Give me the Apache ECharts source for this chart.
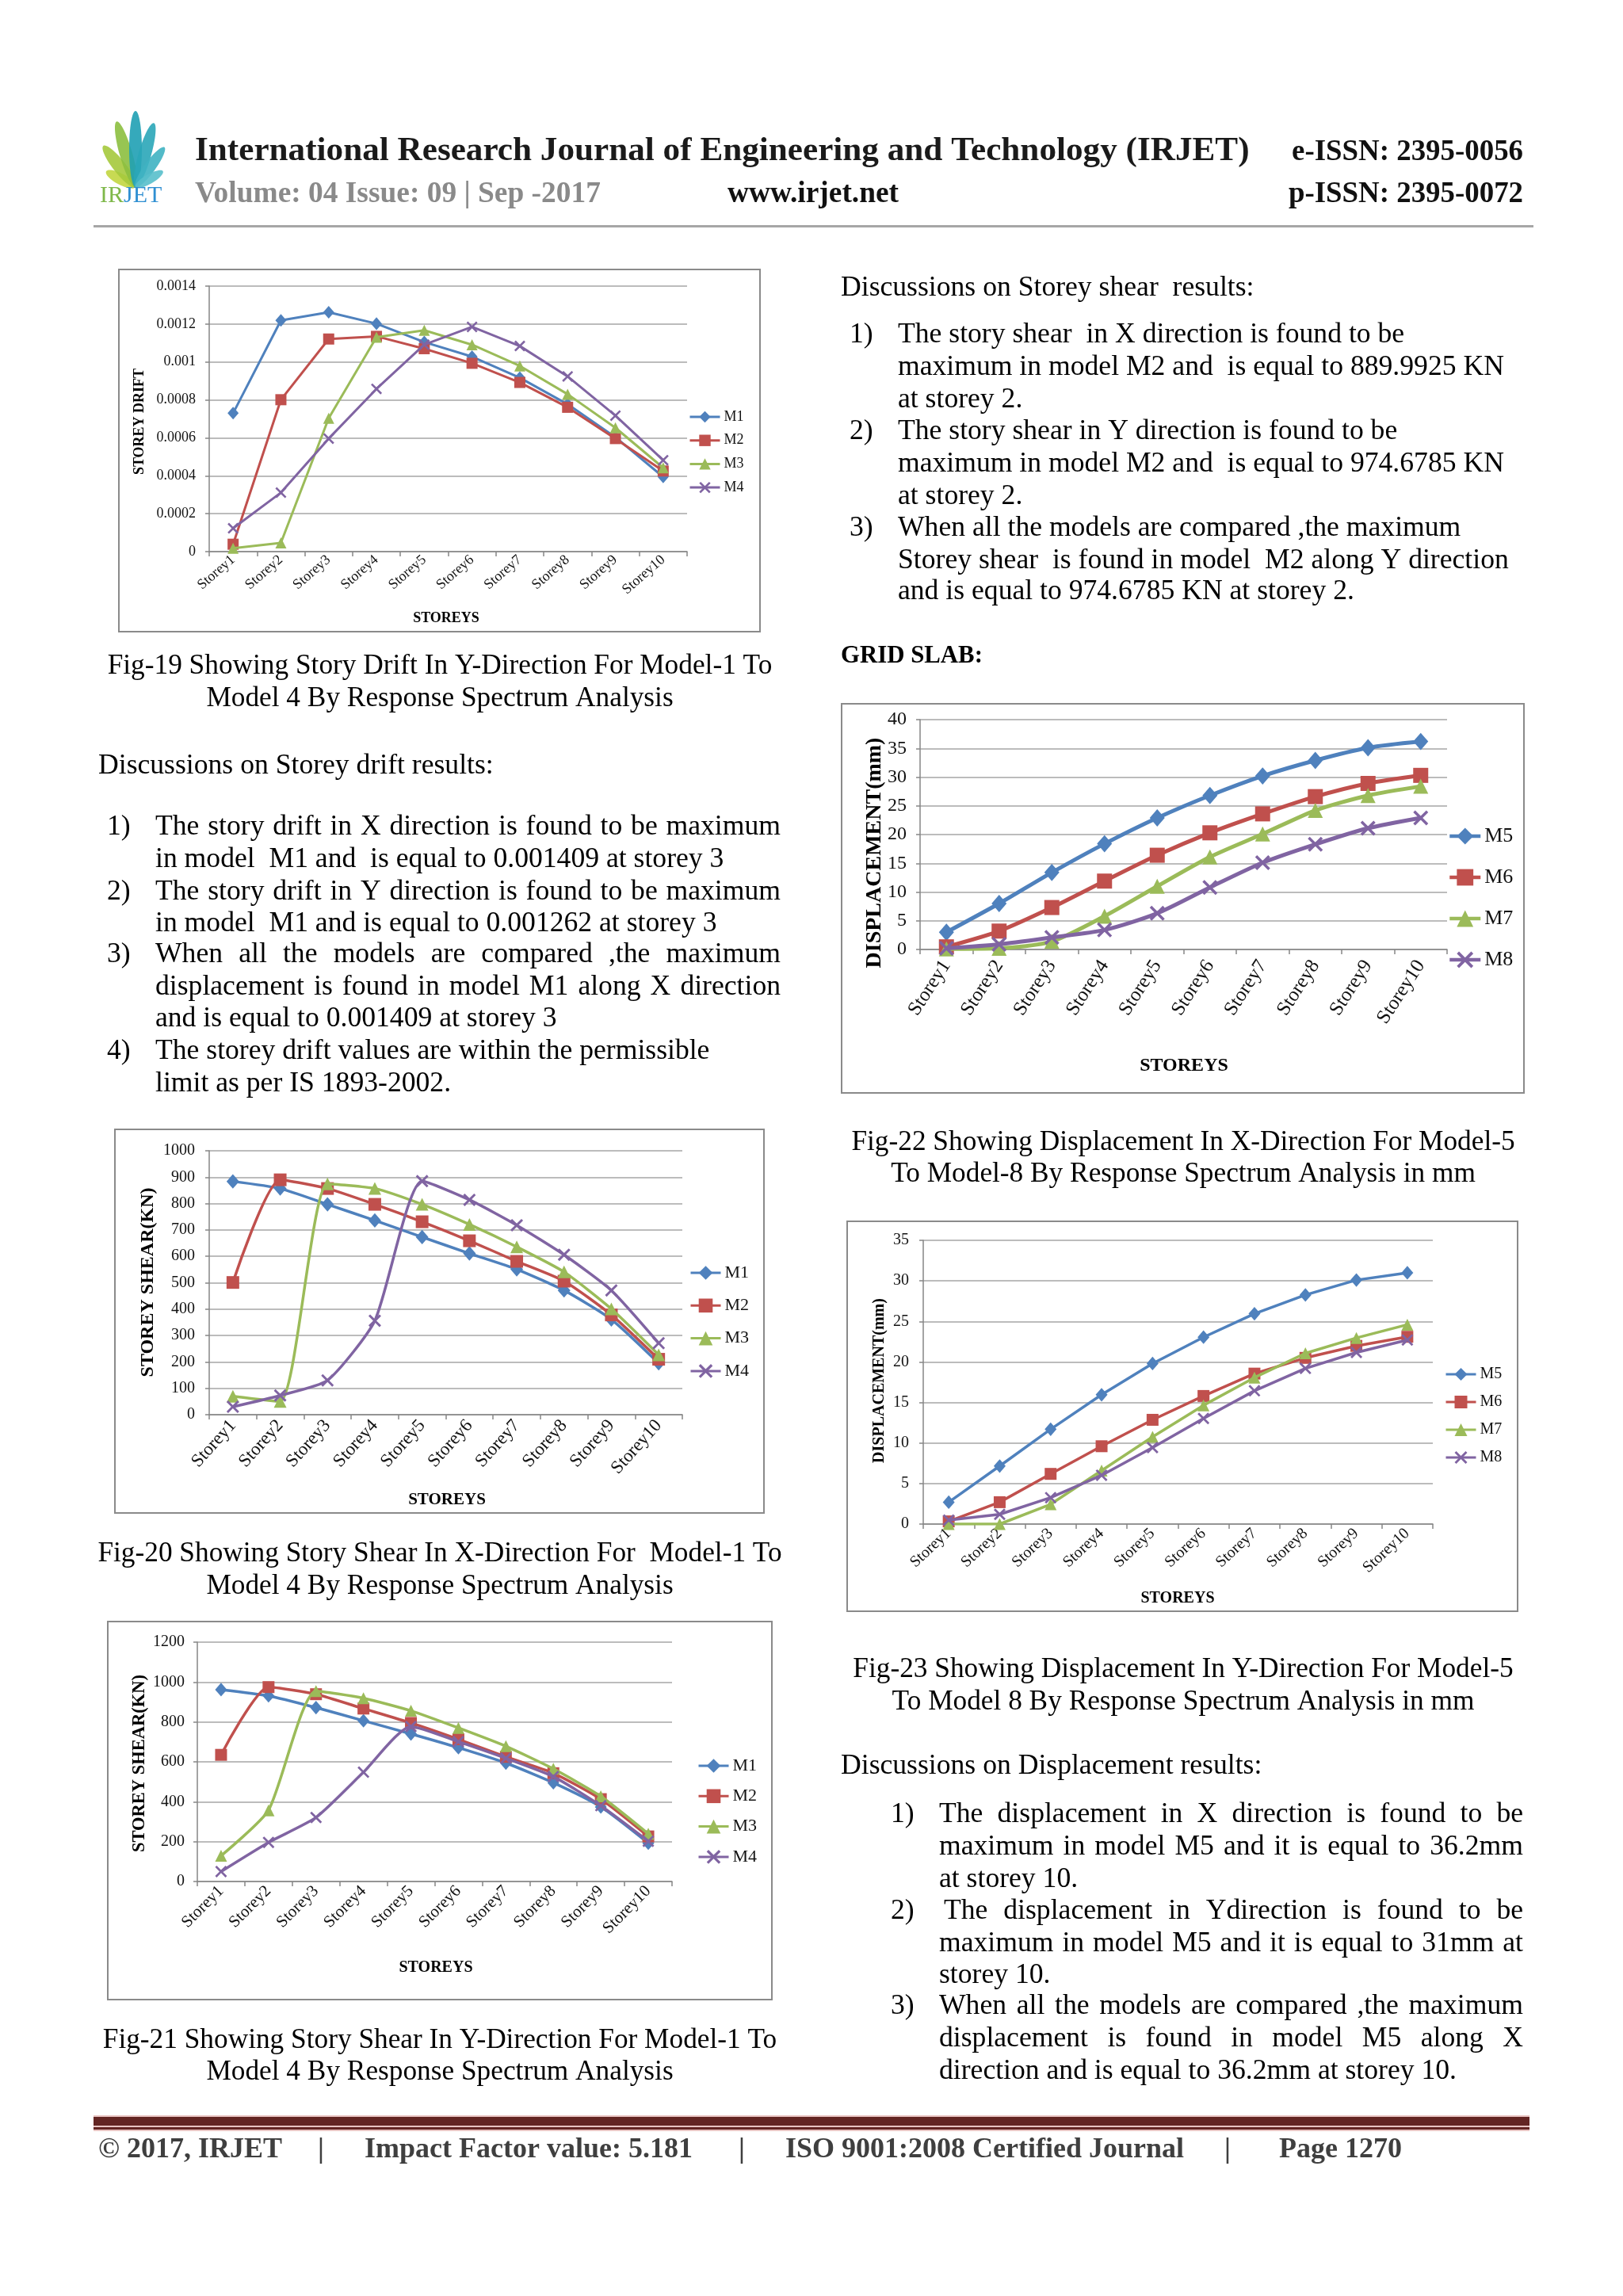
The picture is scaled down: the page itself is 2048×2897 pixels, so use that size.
<!DOCTYPE html>
<html><head><meta charset="utf-8">
<script src="https://cdn.jsdelivr.net/npm/echarts@6/dist/echarts.min.js"></script>
<style>html,body{margin:0;padding:0;background:#fff}#c{width:2048px;height:2897px}</style>
</head><body><div id="c"></div>
<script>
// ---------------- DATA ----------------
const storeys = ['Storey1','Storey2','Storey3','Storey4','Storey5','Storey6','Storey7','Storey8','Storey9','Storey10'];
const modelsA = ['M1','M2','M3','M4'];
const modelsB = ['M5','M6','M7','M8'];

// Fig-19 storey drift, Y direction
const fig19Ticks = [0,0.0002,0.0004,0.0006,0.0008,0.001,0.0012,0.0014];
const fig19_M1 = [0.00073,0.001219,0.001262,0.001202,0.001105,0.001028,0.000917,0.000777,0.000603,0.000394];
const fig19_M2 = [0.000039,0.000801,0.001121,0.001135,0.00107,0.000993,0.000892,0.000761,0.000596,0.000425];
const fig19_M3 = [0.000018,0.000046,0.000703,0.00113,0.001167,0.001091,0.000979,0.00083,0.000653,0.000442];
const fig19_M4 = [0.000123,0.000311,0.000596,0.000858,0.001091,0.001185,0.001084,0.000924,0.000717,0.000482];

// Fig-20 storey shear, X direction (KN)
const fig20Ticks = [0,100,200,300,400,500,600,700,800,900,1000];
const fig20_M1 = [884,857,797,736,673,611,551,471,361,195];
const fig20_M2 = [501,889.99,857,797,731,659,581,506,378,210];
const fig20_M3 = [70,50,875,857,797,721,636,541,401,227];
const fig20_M4 = [30,73,130,356,885,814,718,606,471,271];

// Fig-21 storey shear, Y direction (KN)
const fig21Ticks = [0,200,400,600,800,1000,1200];
const fig21_M1 = [962,931,872,806,740,671,594,495,374,192];
const fig21_M2 = [635,974.68,939,867,795,713,625,543,413,226];
const fig21_M3 = [129,357,955,919,856,770,678,565,427,239];
const fig21_M4 = [50,196,321,548,777,701,618,526,380,202];

// Fig-22 displacement, X direction (mm)
const fig22Ticks = [0,5,10,15,20,25,30,35,40];
const fig22_M5 = [3.0,8.0,13.4,18.4,22.9,26.8,30.2,32.9,35.1,36.2];
const fig22_M6 = [0.46,3.2,7.3,11.9,16.4,20.3,23.6,26.6,28.9,30.3];
const fig22_M7 = [0.1,0.2,1.4,5.8,11.0,16.1,20.1,24.2,26.8,28.4];
const fig22_M8 = [0.2,0.9,2.1,3.4,6.3,10.8,15.1,18.3,21.1,22.9];

// Fig-23 displacement, Y direction (mm)
const fig23Ticks = [0,5,10,15,20,25,30,35];
const fig23_M5 = [2.7,7.16,11.7,15.96,19.8,23.05,25.95,28.26,30.1,31.0];
const fig23_M6 = [0.33,2.7,6.19,9.6,12.86,15.8,18.56,20.5,21.98,23.1];
const fig23_M7 = [0,0,2.44,6.6,10.75,14.65,18.07,21.07,22.96,24.6];
const fig23_M8 = [0.49,1.2,3.26,6.02,9.44,13.02,16.44,19.2,21.17,22.7];

// ---------------- LAYOUT / STYLE ----------------
const SERIF = "'Liberation Serif','Times New Roman',serif";
const COLORS = ['#4F81BD','#C0504D','#9BBB59','#8064A2'];
const XSYM = 'path://M1.3,0 L5,3.7 L8.7,0 L10,1.3 L6.3,5 L10,8.7 L8.7,10 L5,6.3 L1.3,10 L0,8.7 L3.7,5 L0,1.3 Z';
const SYMS = ['diamond','rect','triangle',XSYM];

const charts = [
  {names:modelsA, data:[fig19_M1,fig19_M2,fig19_M3,fig19_M4], ticks:fig19Ticks,
   grid:{left:264,top:361,width:603,height:335}, box:[150,340,959,797],
   yFont:18, xFont:18, xRot:41, xMargin:8, yMargin:17, lg:{left:869,top:517,iw:38,ih:18,gap:11.7,fs:18},
   lw:3, sym:14, smooth:false, yTitle:'STOREY DRIFT', yT:[176,532], yTs:18, xT:[563,780], xTs:18},
  {names:modelsA, data:[fig20_M1,fig20_M2,fig20_M3,fig20_M4], ticks:fig20Ticks,
   grid:{left:264,top:1452,width:597,height:333}, box:[145,1425,964,1909],
   yFont:20, xFont:23, xRot:48, xMargin:10, yMargin:18, lg:{left:870,top:1595,iw:38,ih:22,gap:19.3,fs:22},
   lw:3.5, sym:16, smooth:0.2, yTitle:'STOREY SHEAR(KN)', yT:[187,1618], yTs:24, xT:[564,1893], xTs:21},
  {names:modelsA, data:[fig21_M1,fig21_M2,fig21_M3,fig21_M4], ticks:fig21Ticks,
   grid:{left:249,top:2072,width:599,height:302}, box:[136,2046,974,2523],
   yFont:20, xFont:21, xRot:45, xMargin:9, yMargin:16, lg:{left:880,top:2217,iw:38,ih:22,gap:16.3,fs:22},
   lw:3.5, sym:15, smooth:0.2, yTitle:'STOREY SHEAR(KN)', yT:[176,2225], yTs:22.5, xT:[550,2483], xTs:20},
  {names:modelsB, data:[fig22_M5,fig22_M6,fig22_M7,fig22_M8], ticks:fig22Ticks,
   grid:{left:1161,top:908,width:665,height:290}, box:[1062,888,1923,1379],
   yFont:24, xFont:25, xRot:57, xMargin:16, yMargin:17, lg:{left:1827,top:1042,iw:39,ih:26,gap:26,fs:26},
   lw:5, sym:19, smooth:0.25, yTitle:'DISPLACEMENT(mm)', yT:[1104,1076], yTs:28, xT:[1494,1345], xTs:24},
  {names:modelsB, data:[fig23_M5,fig23_M6,fig23_M7,fig23_M8], ticks:fig23Ticks,
   grid:{left:1165,top:1565,width:643,height:358}, box:[1069,1541,1915,2033],
   yFont:20, xFont:20, xRot:43, xMargin:9, yMargin:18, lg:{left:1823,top:1724,iw:38,ih:20,gap:15,fs:20},
   lw:3.5, sym:15, smooth:false, yTitle:'DISPLACEMENT(mm)', yT:[1110,1742], yTs:20, xT:[1486,2017], xTs:20}
];

// ---------------- TEXT HELPERS ----------------
const mctx = document.createElement('canvas').getContext('2d');
function fnt(w,s){return w+' '+s+'px '+SERIF;}
function measure(t,w,s){mctx.font=fnt(w,s);return mctx.measureText(t).width;}
function fit(t,w,width){return 100*width/measure(t,w,100);}
const gfx = [];
function T(text,x,y,size,o){
  o=o||{};
  return {type:'text',x:x,y:y,rotation:o.rot||0,silent:true,z:100,
    style:{text:text,font:fnt(o.weight||'normal',size),fill:o.color||'#000',
      align:o.align||'left',textAlign:o.align||'left',verticalAlign:'middle',textVerticalAlign:'middle'}};
}
function line(str,x,y,size,o){
  o=o||{};
  if(o.justify){
    const words=str.trim().split(/\s+/);
    const ws=words.map(w=>measure(w,o.weight||'normal',size));
    const tot=ws.reduce((a,b)=>a+b,0);
    const gap=(o.justify-x-tot)/(words.length-1);
    let cx=x;
    words.forEach((w,i)=>{gfx.push(T(w,cx,y,size,o));cx+=ws[i]+gap;});
  } else gfx.push(T(str,x,y,size,o));
}

// font sizes fitted to measured widths in the reference
const BODY = fit('maximum in model M2 and  is equal to 889.9925 KN','normal',765);
const CAP = fit('Fig-19 Showing Story Drift In Y-Direction For Model-1 To','normal',839);
const TITLE = fit('International Research Journal of Engineering and Technology (IRJET)','bold',1331);
const SUB = fit('Volume: 04 Issue: 09 | Sep -2017','bold',512);
const ISSN = fit('e-ISSN: 2395-0056','bold',292);
const FOOT = fit('Impact Factor value: 5.181','bold',414);
const GRID = fit('GRID SLAB:','bold',179);

// ---------------- HEADER ----------------
const leaves = [[-62,42,7,'#c2d640'],[-38,66,8,'#a5c93c'],[-16,86,8,'#8cbf3f'],[0,96,8,'#1fa0b4'],[16,84,8,'#2aa6b8'],[36,62,7,'#3fb3c2'],[60,40,6,'#58bfcb']];
leaves.forEach(l=>{
  gfx.push({type:'ellipse',x:171,y:236,rotation:-l[0]*Math.PI/180,silent:true,
    shape:{cx:0,cy:-l[1]/2,rx:l[2],ry:l[1]/2},style:{fill:l[3],opacity:0.9}});
});
gfx.push(T('IR',126,247,30,{color:'#7fb84a'}));
gfx.push(T('JET',126+measure('IR','normal',30),247,30,{color:'#2f8fd2'}));
line('International Research Journal of Engineering and Technology (IRJET)',246,191,TITLE,{weight:'bold',color:'#1a1a1a'});
line('Volume: 04 Issue: 09 | Sep -2017',246,245,SUB,{weight:'bold',color:'#8a8a8a'});
line('www.irjet.net',918,245,SUB,{weight:'bold',color:'#111'});
line('e-ISSN: 2395-0056',1922,192,ISSN,{weight:'bold',align:'right',color:'#111'});
line('p-ISSN: 2395-0072',1922,245,ISSN,{weight:'bold',align:'right',color:'#111'});
gfx.push({type:'rect',silent:true,shape:{x:118,y:284,width:1817,height:3},style:{fill:'#a6a6a6'}});

// ---------------- LEFT COLUMN TEXT ----------------
const LC = 555, RC = 1493;
line('Fig-19 Showing Story Drift In Y-Direction For Model-1 To',LC,841,CAP,{align:'center'});
line('Model 4 By Response Spectrum Analysis',LC,882,CAP,{align:'center'});
line('Discussions on Storey drift results:',124,967,BODY);
const leftItems = [
  ['1)','The story drift in X direction is found to be maximum',1044,985],
  ['','in model  M1 and  is equal to 0.001409 at storey 3',1085,0],
  ['2)','The story drift in Y direction is found to be maximum',1126,985],
  ['','in model  M1 and is equal to 0.001262 at storey 3',1166,0],
  ['3)','When all the models are compared ,the maximum',1205,985],
  ['','displacement  is found in model M1 along X direction',1246,985],
  ['','and is equal to 0.001409 at storey 3',1286,0],
  ['4)','The storey drift values are within the permissible',1327,0],
  ['','limit as per IS 1893-2002.',1368,0]
];
leftItems.forEach(r=>{ if(r[0]) line(r[0],135,r[2],BODY); line(r[1],196,r[2],BODY,r[3]?{justify:r[3]}:{}); });
line('Fig-20 Showing Story Shear In X-Direction For  Model-1 To',LC,1961,CAP,{align:'center'});
line('Model 4 By Response Spectrum Analysis',LC,2002,CAP,{align:'center'});
line('Fig-21 Showing Story Shear In Y-Direction For Model-1 To',LC,2575,CAP,{align:'center'});
line('Model 4 By Response Spectrum Analysis',LC,2615,CAP,{align:'center'});

// ---------------- RIGHT COLUMN TEXT ----------------
line('Discussions on Storey shear  results:',1061,364,BODY);
const rightTop = [
  ['1)','The story shear  in X direction is found to be',423],
  ['','maximum in model M2 and  is equal to 889.9925 KN',464],
  ['','at storey 2.',505],
  ['2)','The story shear in Y direction is found to be',545],
  ['','maximum in model M2 and  is equal to 974.6785 KN',586],
  ['','at storey 2.',627],
  ['3)','When all the models are compared ,the maximum',667],
  ['','Storey shear  is found in model  M2 along Y direction',708],
  ['','and is equal to 974.6785 KN at storey 2.',747]
];
rightTop.forEach(r=>{ if(r[0]) line(r[0],1072,r[2],BODY); line(r[1],1133,r[2],BODY); });
line('GRID SLAB:',1061,828,GRID,{weight:'bold'});
line('Fig-22 Showing Displacement In X-Direction For Model-5',RC,1442,CAP,{align:'center'});
line('To Model-8 By Response Spectrum Analysis in mm',RC,1482,CAP,{align:'center'});
line('Fig-23 Showing Displacement In Y-Direction For Model-5',RC,2107,CAP,{align:'center'});
line('To Model 8 By Response Spectrum Analysis in mm',RC,2148,CAP,{align:'center'});
line('Discussions on Displacement results:',1061,2229,BODY);
const rightBottom = [
  ['1)','The displacement in X direction is found to be',2290,1185,1922],
  ['','maximum  in  model  M5 and it is equal to 36.2mm',2331,1185,1922],
  ['','at storey 10.',2372,1185,0],
  ['2)','The displacement in Ydirection is found to be',2412,1191,1922],
  ['','maximum  in  model M5 and it is equal to 31mm at',2453,1185,1922],
  ['','storey 10.',2493,1185,0],
  ['3)','When all the models are compared ,the maximum',2532,1185,1922],
  ['','displacement    is  found  in  model  M5  along  X',2573,1185,1922],
  ['','direction and is equal to 36.2mm at storey 10.',2614,1185,0]
];
rightBottom.forEach(r=>{ if(r[0]) line(r[0],1124,r[2],BODY); line(r[1],r[3],r[2],BODY,r[4]?{justify:r[4]}:{}); });

// ---------------- FOOTER ----------------
gfx.push({type:'rect',silent:true,shape:{x:118,y:2669,width:1812,height:20},style:{fill:'#e8c4c2'}});
gfx.push({type:'rect',silent:true,shape:{x:118,y:2671,width:1812,height:11},style:{fill:'#632523'}});
gfx.push({type:'rect',silent:true,shape:{x:118,y:2684,width:1812,height:3},style:{fill:'#632523'}});
const fc = '#3f3f3f';
line('\u00a9 2017, IRJET',124,2713,FOOT,{weight:'bold',color:fc});
line('|',401,2713,FOOT,{weight:'bold',color:fc});
line('Impact Factor value: 5.181',460,2713,FOOT,{weight:'bold',color:fc});
line('|',932,2713,FOOT,{weight:'bold',color:fc});
line('ISO 9001:2008 Certified Journal',991,2713,FOOT,{weight:'bold',color:fc});
line('|',1545,2713,FOOT,{weight:'bold',color:fc});
line('Page 1270',1614,2713,FOOT,{weight:'bold',color:fc});

// ---------------- CHARTS ----------------
function tickFmt(v){ return String(+v.toPrecision(6)); }
const grids=[], xAxes=[], yAxes=[], series=[], legends=[];
charts.forEach((c,gi)=>{
  grids.push({left:c.grid.left,top:c.grid.top,width:c.grid.width,height:c.grid.height,containLabel:false});
  xAxes.push({type:'category',gridIndex:gi,data:storeys,boundaryGap:true,
    axisLine:{show:true,lineStyle:{color:'#868686',width:1.5}},
    axisTick:{show:true,length:6,interval:0,lineStyle:{color:'#868686',width:1.5}},
    axisLabel:{rotate:c.xRot,interval:0,margin:c.xMargin,fontFamily:SERIF,fontSize:c.xFont,color:'#111'},
    splitLine:{show:false}});
  const t=c.ticks;
  yAxes.push({type:'value',gridIndex:gi,min:t[0],max:t[t.length-1],interval:t[1]-t[0],
    axisLine:{show:true,lineStyle:{color:'#868686',width:1.5}},
    axisTick:{show:true,length:5,lineStyle:{color:'#868686',width:1.5}},
    splitLine:{show:true,lineStyle:{color:'#a6a6a6',width:1.5}},
    axisLabel:{margin:c.yMargin,fontFamily:SERIF,fontSize:c.yFont,color:'#111',formatter:tickFmt}});
  c.names.forEach((n,i)=>{
    series.push({type:'line',name:n,xAxisIndex:gi,yAxisIndex:gi,data:c.data[i],
      symbol:SYMS[i],symbolSize:i===0?[c.sym,c.sym*1.15]:c.sym,smooth:c.smooth,
      lineStyle:{width:c.lw,color:COLORS[i]},itemStyle:{color:COLORS[i]},z:2+i});
  });
  legends.push({data:c.names,orient:'vertical',left:c.lg.left,top:c.lg.top,padding:0,
    itemWidth:c.lg.iw,itemHeight:c.lg.ih,itemGap:c.lg.gap,itemStyle:{borderWidth:0},
    lineStyle:{width:Math.max(3,c.lw-0.5)},
    textStyle:{fontFamily:SERIF,fontSize:c.lg.fs,color:'#111'},selectedMode:false});
  const b=c.box;
  gfx.push({type:'rect',silent:true,z:0,shape:{x:b[0],y:b[1],width:b[2]-b[0],height:b[3]-b[1]},
    style:{fill:'none',stroke:'#8a8a8a',lineWidth:2}});
  gfx.push(T(c.yTitle,c.yT[0],c.yT[1],c.yTs,{weight:'bold',align:'center',rot:Math.PI/2}));
  gfx.push(T('STOREYS',c.xT[0],c.xT[1],c.xTs,{weight:'bold',align:'center'}));
});

const chart = echarts.init(document.getElementById('c'),null,{renderer:'canvas',width:2048,height:2897});
chart.setOption({
  animation:false,
  backgroundColor:'#ffffff',
  grid:grids, xAxis:xAxes, yAxis:yAxes, series:series, legend:legends,
  graphic:{elements:gfx}
});
</script></body></html>
